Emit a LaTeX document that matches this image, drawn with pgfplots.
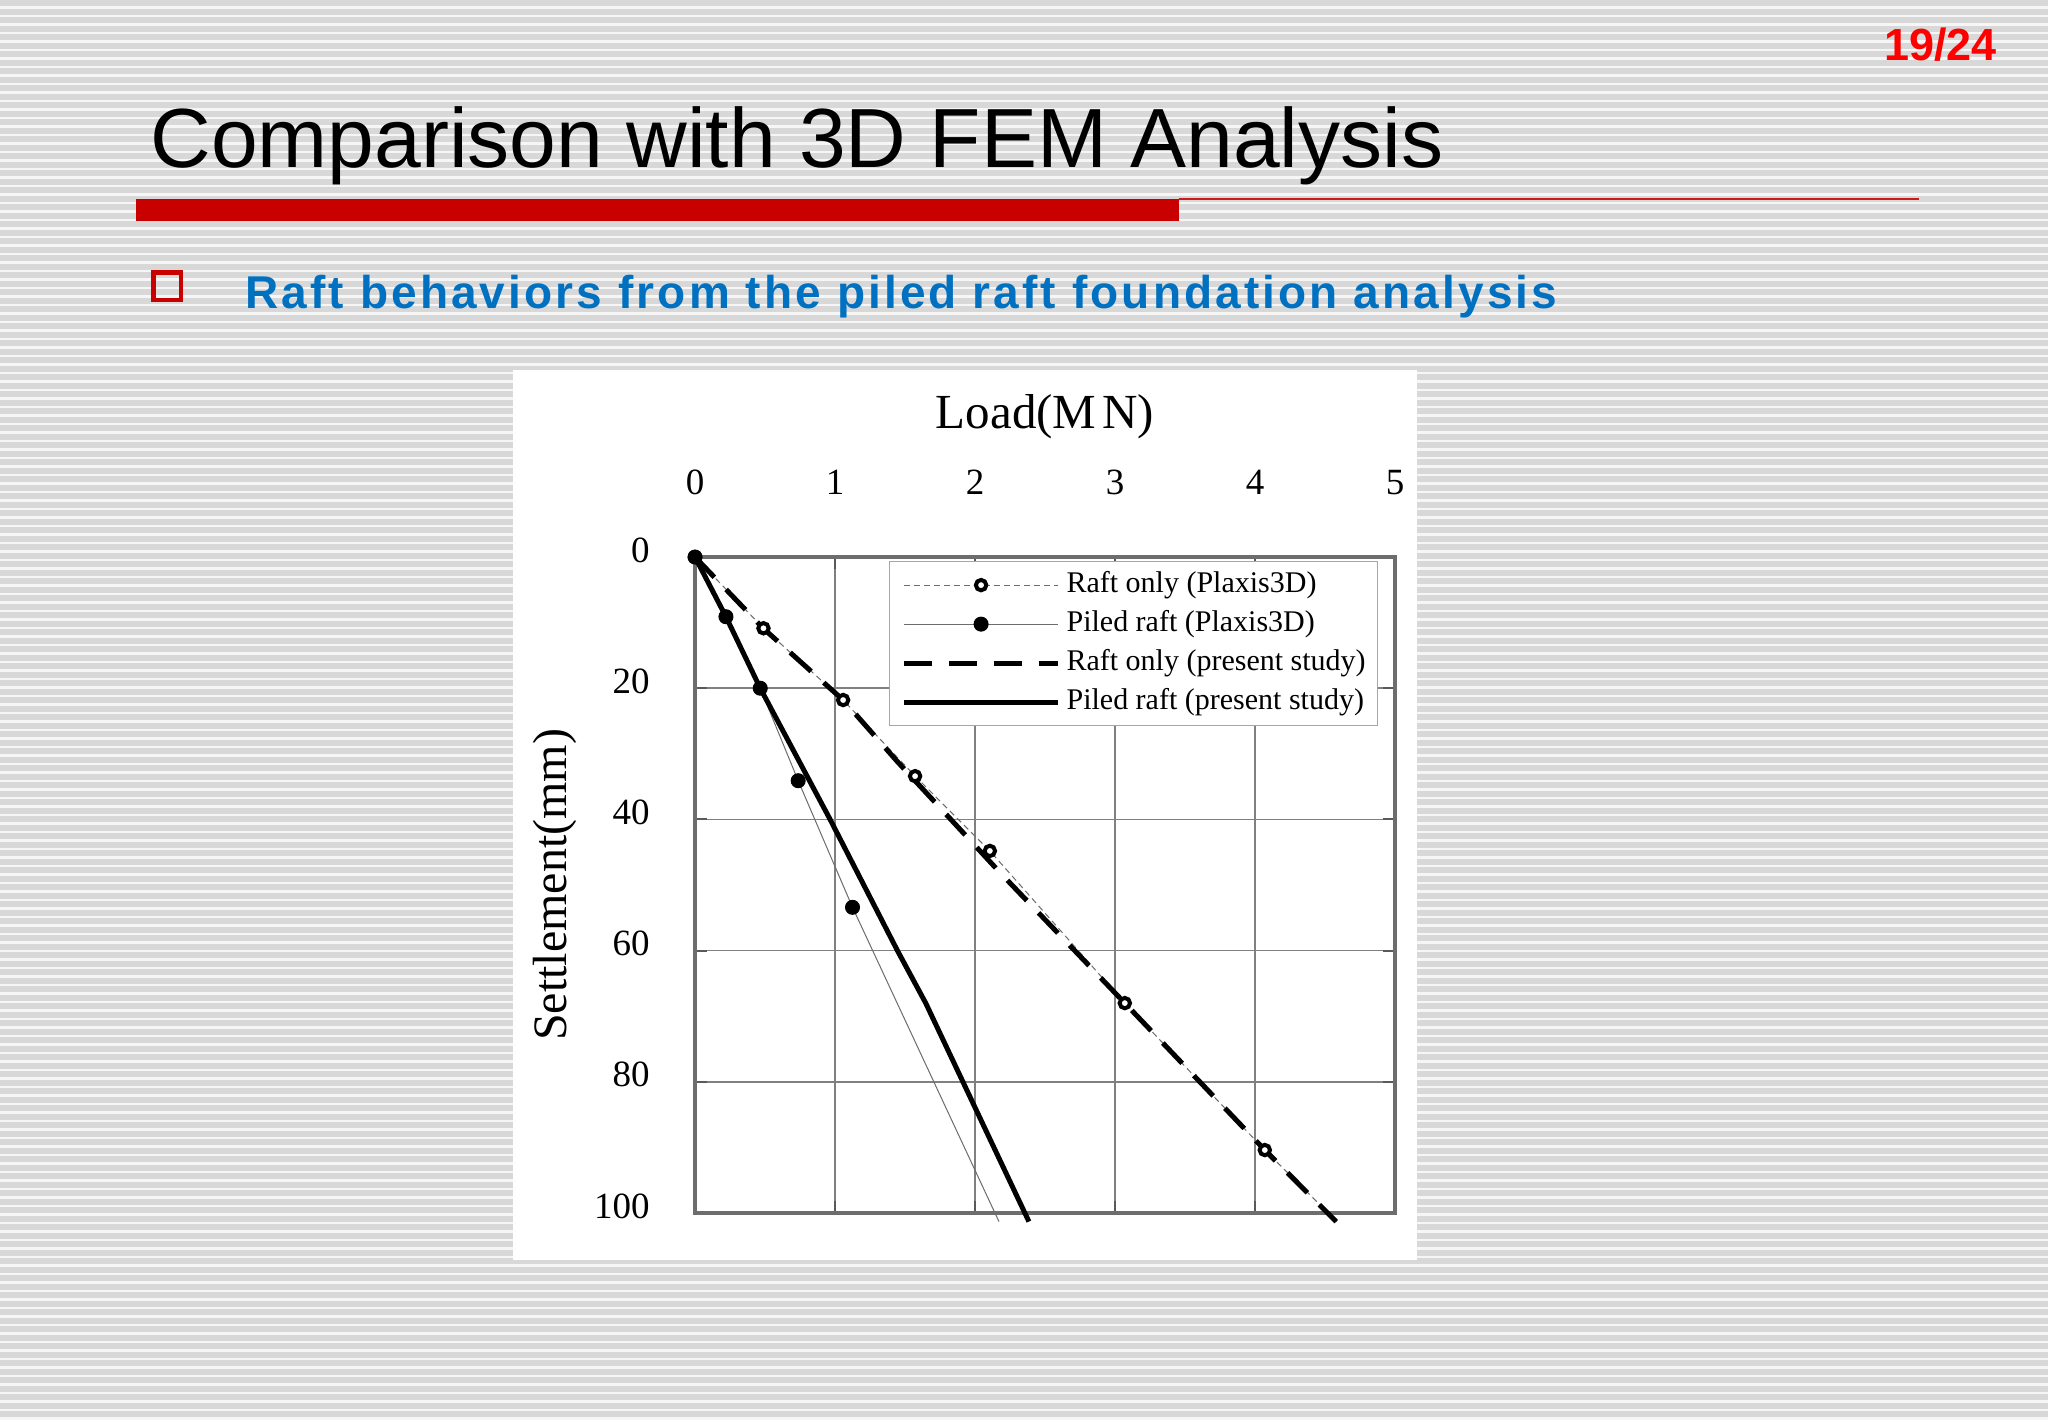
\documentclass[border=0pt]{standalone}
\usepackage{fontspec}
\setmainfont{Liberation Sans}
\newfontfamily\serif{Liberation Serif}
\newfontfamily\spaced[LetterSpace=6.8]{Liberation Sans}
\usepackage{pgfplots}
\pgfplotsset{compat=1.18}

\definecolor{stripegray}{RGB}{216,216,216}
\definecolor{stripewhite}{RGB}{246,246,246}
\definecolor{barred}{RGB}{200,0,0}
\definecolor{pagered}{RGB}{255,0,0}
\definecolor{subblue}{RGB}{0,112,192}
\definecolor{gridgray}{RGB}{128,128,128}

\pgfplotsset{
  raftfem/.style={color=gray!85!black, line width=0.5pt, dash pattern=on 3pt off 2pt},
  piledfem/.style={color=gray!85!black, line width=0.5pt, solid},
  raftnow/.style={color=black, line width=2.5pt, dash pattern=on 14pt off 8.5pt},
  pilednow/.style={color=black, line width=2.5pt, solid},
  openmark/.style={mark=*, mark size=2.6pt, mark options={solid, draw=black, fill=white, line width=2pt}},
  fullmark/.style={mark=*, mark size=3.5pt, mark options={solid, draw=black, fill=black, line width=0.5pt}},
}

\begin{document}
\begin{tikzpicture}
% slide background, 1 unit = 1 px of the 2048x1418 picture
\begin{scope}[x=0.5pt, y=-0.5pt]
  \fill[stripegray] (0,0) rectangle (2048,1418);
  \foreach \i in {0,...,166} {
    \fill[stripewhite] (0,\i*8.5+6) rectangle (2048,\i*8.5+8.5);
  }
  \node[anchor=base east, inner sep=0pt, text=pagered,
        font=\bfseries\fontsize{22.5pt}{26pt}\selectfont] at (1997,60) {19/24};
  \node[anchor=base west, inner sep=0pt,
        font=\fontsize{42pt}{48pt}\selectfont] at (150,167) {Comparison with 3D FEM Analysis};
  \fill[barred] (136,198.5) rectangle (1179,221);
  \fill[barred!90!white] (1179,197.8) rectangle (1919,200.2);
  \draw[barred, line width=2.25pt] (153.25,272.25) rectangle (180.75,299.75);
  \node[anchor=base west, inner sep=0pt, text=subblue,
        font=\spaced\bfseries\fontsize{23pt}{27pt}\selectfont] at (245,308)
        {Raft behaviors from the piled raft foundation analysis};
  \fill[white] (513,370) rectangle (1417,1260);
\end{scope}

\begin{axis}[
  at={(695*0.5pt,-557*0.5pt)}, anchor=north west,
  scale only axis, width=350pt, height=328pt,
  xmin=0, xmax=5, ymin=0, ymax=100,
  y dir=reverse,
  xtick={0,1,2,3,4,5}, ytick={0,20,40,60,80,100},
  xticklabel pos=upper,
  grid=major,
  major grid style={line width=0.75pt, color=gridgray},
  axis line style={line width=1.75pt, color=gridgray!85!black},
  tick align=inside, major tick length=6pt,
  tick style={line width=1pt, color=gray!70!black},
  /pgf/number format/assume math mode=true,
  ticklabel style={font=\serif\fontsize{18.5pt}{20pt}\selectfont},
  xticklabel style={anchor=south, inner sep=0pt, yshift=31pt},
  yticklabel style={anchor=east, inner sep=0pt, xshift=-22.5pt, yshift=3.5pt},
  xlabel={Load(M\kern3pt N)},
  xlabel style={at={(axis description cs:0.5,1.1966)}, anchor=base,
                font=\serif\fontsize{24.5pt}{27pt}\selectfont},
  ylabel={Settlement(mm)},
  ylabel style={at={(axis description cs:-0.2,0.5)}, anchor=center, rotate=0,
                font=\serif\fontsize{24pt}{26pt}\selectfont},
  clip=false,
  legend cell align=left,
  legend image code/.code={
    \draw[mark repeat=2, mark phase=2, #1]
      plot coordinates {(0pt,0pt) (38.5pt,0pt) (77pt,0pt)};
  },
  legend style={
    at={(axis description cs:0.2771,0.9939)}, anchor=north west,
    draw=gray!70, line width=0.6pt, fill=white,
    font=\serif\fontsize{15pt}{17pt}\selectfont,
    inner xsep=6pt, inner ysep=4.5pt,
    row sep=5pt, column sep=3pt,
    nodes={inner sep=0pt, text height=11pt, text depth=3.5pt},
  },
]

% Raft only (Plaxis3D)
\addplot[raftfem, forget plot] table {
x y
0 0
0.489 10.86
1.058 21.8
1.572 33.4
2.106 44.8
3.07 68.0
4.07 90.4
4.585 101.3
};
% Piled raft (Plaxis3D)
\addplot[piledfem, forget plot] table {
x y
0 0
0.221 9.1
0.466 20.0
0.737 34.1
1.125 53.4
2.171 101.3
};
% Raft only (present study)
\addplot[raftnow, forget plot] table {
x y
0 0
0.489 10.9
1.058 21.8
1.446 31.2
2.183 48.2
2.73 60.4
3.07 68.0
4.07 90.4
4.58 101.3
};
% Piled raft (present study)
\addplot[pilednow, forget plot] table {
x y
0 0
0.221 9.1
0.466 20.0
0.965 40.0
1.446 60.0
1.648 68.0
2.385 101.3
};
% Plaxis3D points
\addplot[only marks, openmark, forget plot] table {
x y
0 0
0.489 10.86
1.058 21.8
1.572 33.4
2.106 44.8
3.07 68.0
4.07 90.4
};
\addplot[only marks, fullmark, forget plot] table {
x y
0 0
0.221 9.1
0.466 20.0
0.737 34.1
1.125 53.4
};

\addlegendimage{raftfem, openmark}
\addlegendentry{Raft only (Plaxis3D)}
\addlegendimage{piledfem, fullmark}
\addlegendentry{Piled raft (Plaxis3D)}
\addlegendimage{raftnow}
\addlegendentry{Raft only (present study)}
\addlegendimage{pilednow}
\addlegendentry{Piled raft (present study)}
\end{axis}
\end{tikzpicture}
\end{document}
